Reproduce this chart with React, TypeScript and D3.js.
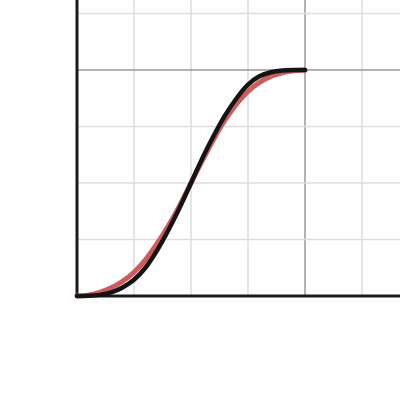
import * as d3 from 'd3';

// sample positions along the x axis
const tValues = [0, 0.05, 0.1, 0.15, 0.2, 0.25, 0.3, 0.35, 0.4, 0.45, 0.5, 0.55, 0.6, 0.65, 0.7, 0.75, 0.8, 0.85, 0.9, 0.95, 1];
// red easing curve
const redValues = [0, 0.004, 0.016, 0.036, 0.065, 0.105, 0.16, 0.23, 0.31, 0.4, 0.5, 0.6, 0.695, 0.78, 0.85, 0.905, 0.945, 0.972, 0.988, 0.997, 1];
// black easing curve
const blackValues = [0, 0.001, 0.005, 0.016, 0.038, 0.072, 0.125, 0.2, 0.29, 0.39, 0.5, 0.61, 0.71, 0.8, 0.875, 0.935, 0.972, 0.99, 0.998, 1, 1];
const gridTicks = [0.25, 0.5, 0.75, 1, 1.25];

const width = 400;
const height = 400;

const App = () => {
  const x = d3.scaleLinear().domain([0, 1]).range([77, 305]);
  const y = d3.scaleLinear().domain([0, 1]).range([296, 70]);

  const line = d3
    .line<number>()
    .x((_, i) => x(tValues[i]))
    .y(d => y(d))
    .curve(d3.curveMonotoneX);

  return (
    <svg width={width} height={height} style={{ position: 'absolute', left: 0, top: 0 }}>
      <rect width={width} height={height} fill="#fff" />
      {gridTicks.map(t => (
        <line
          key={'v' + t}
          x1={x(t)}
          x2={x(t)}
          y1={0}
          y2={y(0)}
          stroke={t === 1 ? '#999' : '#ddd'}
          strokeWidth={1.5}
        />
      ))}
      {gridTicks.map(t => (
        <line
          key={'h' + t}
          x1={x(0)}
          x2={width}
          y1={y(t)}
          y2={y(t)}
          stroke={t === 1 ? '#999' : '#ddd'}
          strokeWidth={1.5}
        />
      ))}
      <line x1={x(0)} x2={x(0)} y1={0} y2={y(0)} stroke="#1a1a1a" strokeWidth={3} />
      <line x1={x(0) - 1.5} x2={width} y1={y(0)} y2={y(0)} stroke="#1a1a1a" strokeWidth={3} />
      <path d={line(redValues) || ''} fill="none" stroke="#cd5c5c" strokeWidth={5} strokeLinecap="round" />
      <path d={line(blackValues) || ''} fill="none" stroke="#141414" strokeWidth={4.5} strokeLinecap="round" />
    </svg>
  );
};

export default App;
